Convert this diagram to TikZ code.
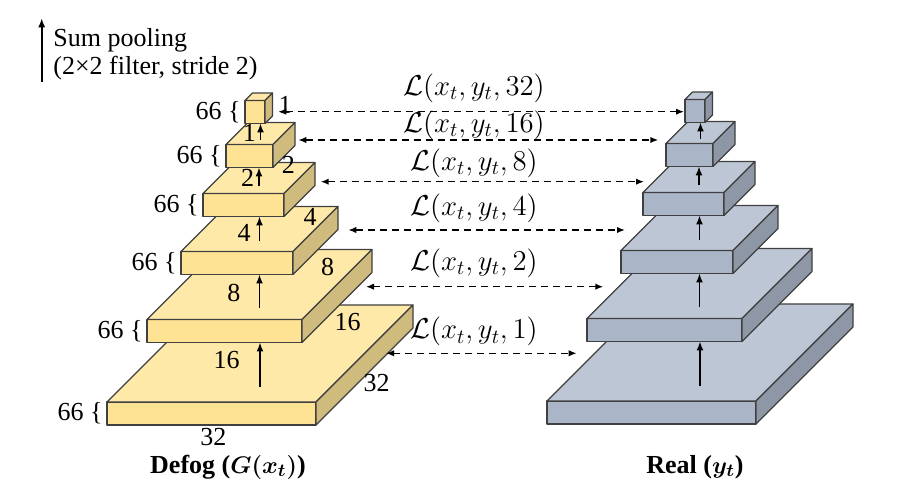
\documentclass[tikz,border=0pt]{standalone}
\usepackage{fontspec}
\setmainfont{Liberation Serif}
\usetikzlibrary{arrows.meta, calc}
\definecolor{fogtop}{HTML}{FFE9A8}
\definecolor{fogfront}{HTML}{FFE394}
\definecolor{fogside}{HTML}{CFBB7E}
\definecolor{realtop}{HTML}{BDC6D4}
\definecolor{realfront}{HTML}{ABB5C8}
\definecolor{realside}{HTML}{8D97A5}
\definecolor{edgegrey}{HTML}{404040}

% slab: name, x, y, width, depth, colour prefix, arrow start above front edge
\newcommand{\slab}[7]{%
  \coordinate (#1) at (#2,#3);
  \filldraw[slabedge, fill=#6front] (#1) rectangle ++(#4,23);
  \filldraw[slabedge, fill=#6top] ($(#1)+(0,23)$) -- ++(#4,0) -- ++(#5,#5) -- ++(-#4,0) -- cycle;
  \filldraw[slabedge, fill=#6side] ($(#1)+(#4,0)$) -- ++(#5,#5) -- ++(0,23) -- ++(-#5,-#5) -- cycle;
  \coordinate (#1-a) at ($(#1)+({(#4+#5)/2},{23+#7})$);
}

\begin{document}
\begin{tikzpicture}[x=0.5pt, y=0.5pt,
    slabedge/.style={draw=edgegrey, line width=0.55pt, line join=round},
    txt/.style={font=\fontsize{13}{14}\selectfont, inner sep=0pt},
    pool/.style={-{Latex[length=4.5pt,width=3.5pt]}, line width=0.8pt},
    loss/.style={{Latex[length=4pt,width=3.2pt]}-{Latex[length=4pt,width=3.2pt]},
      dash pattern=on 3.5pt off 2.5pt, line width=0.75pt}]
  \useasboundingbox (0,0) rectangle (907,491);

  % defogged pyramid
  \slab{d32}{107}{66}{209}{97}{fog}{15}
  \slab{d16}{147}{148.5}{155}{70}{fog}{11.5}
  \slab{d8}{181}{216.5}{112}{45}{fog}{10}
  \slab{d4}{203}{274.5}{81}{31}{fog}{7}
  \slab{d2}{226}{323.5}{47}{22}{fog}{4.5}
  \slab{d1}{245}{367.5}{20}{7.5}{fog}{0}

  % real pyramid
  \slab{r32}{547}{67}{209}{97}{real}{15}
  \slab{r16}{587}{149.5}{155}{70}{real}{11.5}
  \slab{r8}{621}{217.5}{112}{45}{real}{10}
  \slab{r4}{643}{275.5}{81}{31}{real}{7}
  \slab{r2}{666}{324.5}{47}{22}{real}{4.5}
  \slab{r1}{685}{368.5}{20}{7.5}{real}{0}

  % pooling arrows
  \draw[pool] (d32-a) -- (d32-a |- d16);
  \draw[pool] (d16-a) -- (d16-a |- d8);
  \draw[pool] (d8-a) -- (d8-a |- d4);
  \draw[pool] (d4-a) -- (d4-a |- d2);
  \draw[pool] (d2-a) -- (d2-a |- d1);
  \draw[pool] (r32-a) -- (r32-a |- r16);
  \draw[pool] (r16-a) -- (r16-a |- r8);
  \draw[pool] (r8-a) -- (r8-a |- r4);
  \draw[pool] (r4-a) -- (r4-a |- r2);
  \draw[pool] (r2-a) -- (r2-a |- r1);

  % channel braces
  \node[txt, anchor=east] (c32) at (103,77.5) {66 \{};
  \node[txt, anchor=east] (c16) at (143,160) {66 \{};
  \node[txt, anchor=east] (c8) at (177,228) {66 \{};
  \node[txt, anchor=east] (c4) at (199,286) {66 \{};
  \node[txt, anchor=east] (c2) at (222,335) {66 \{};
  \node[txt, anchor=east] (c1) at (241,379) {66 \{};

  % sizes
  \node[txt] (w32) at (213.3,54.3) {32};
  \node[txt] (s32) at (376.7,107.7) {32};
  \node[txt] (s16) at (347.7,169.3) {16};
  \node[txt] (s8) at (327.7,223.7) {8};
  \node[txt] (s4) at (310,274.3) {4};
  \node[txt] (s2) at (288.3,326) {2};
  \node[txt] (s1) at (285,386) {1};
  \node[txt] (f16) at (226.7,131) {16};
  \node[txt] (f8) at (234,197.7) {8};
  \node[txt] (f4) at (244,257.7) {4};
  \node[txt] (f2) at (247.7,312.7) {2};
  \node[txt] (f1) at (249.3,357.7) {1};

  % losses
  \foreach \k/\y/\xl/\xr/\ly in {32/379.3/278.3/684/402.7, 16/351/298.3/658.3/366,
      8/309.3/320.7/644/327.7, 4/261/348.3/625/282.7,
      2/204.3/366/603.3/227.7, 1/137.7/386/576.7/159.3}{
    \coordinate (e\k-l) at (\xl,\y);
    \coordinate (e\k-r) at (\xr,\y);
    \draw[loss] (e\k-l) -- (e\k-r);
    \node[txt, font=\fontsize{14}{15}\selectfont] (loss\k) at (474,\ly) {$\mathcal{L}(x_t, y_t, \k)$};
  }

  % legend
  \coordinate (pool-s) at (41.7,409.3);
  \coordinate (pool-e) at (41.7,472.7);
  \draw[pool] (pool-s) -- (pool-e);
  \node[txt, anchor=west, align=left] (pooltxt) at (53,437) {Sum pooling\\(2×2 filter, stride 2)};

  \node[txt, font=\fontsize{13}{14}\selectfont\bfseries\boldmath] (defog) at (228,24) {Defog ($G(x_t)$)};
  \node[txt, font=\fontsize{13}{14}\selectfont\bfseries\boldmath] (real) at (695,24) {Real ($y_t$)};
\end{tikzpicture}
\end{document}
